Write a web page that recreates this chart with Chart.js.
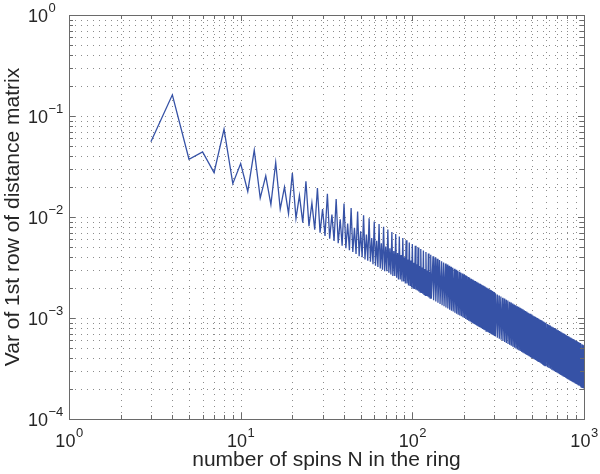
<!DOCTYPE html>
<html>
<head>
<meta charset="utf-8">
<script src="https://cdn.jsdelivr.net/npm/chart.js@4"></script>
<style>
  html, body { margin: 0; padding: 0; background: #fff; }
  #wrap { width: 600px; height: 474px; }
</style>
</head>
<body>
<div id="wrap"><canvas id="c"></canvas></div>
<script>
// number of spins N (x) and variance of the 1st row of the distance matrix (y)
// every N up to 127, then the upper/lower edges of the dense band
const spins = [
  3, 4, 5, 6, 7, 8, 9, 10, 11, 12, 13, 14, 15, 16, 17, 18, 19, 20,
  21, 22, 23, 24, 25, 26, 27, 28, 29, 30, 31, 32, 33, 34, 35, 36, 37, 38, 39, 40,
  41, 42, 43, 44, 45, 46, 47, 48, 49, 50, 51, 52, 53, 54, 55, 56, 57, 58, 59, 60,
  61, 62, 63, 64, 65, 66, 67, 68, 69, 70, 71, 72, 73, 74, 75, 76, 77, 78, 79, 80,
  81, 82, 83, 84, 85, 86, 87, 88, 89, 90, 91, 92, 93, 94, 95, 96, 97, 98, 99, 100,
  101, 102, 103, 104, 105, 106, 107, 108, 109, 110, 111, 112, 113, 114, 115, 116,
  117, 118, 119, 120, 121, 122, 123, 124, 125, 126, 127,
  128, 129, 132, 133, 136, 137, 140, 141, 144, 145, 148, 149, 152, 153, 156, 157, 160, 161,
  164, 165, 168, 169, 172, 173, 176, 177, 180, 181, 184, 185, 188, 189, 192, 193,
  196, 197, 200, 201, 204, 205, 208, 209, 212, 213, 216, 217, 220, 221, 224, 225,
  228, 229, 232, 233, 236, 237, 240, 241, 244, 245, 248, 249, 252, 253, 256, 257,
  260, 261, 264, 265, 268, 269, 272, 273, 276, 277, 280, 281, 284, 285, 288, 289,
  292, 293, 296, 297, 300, 301,
  304, 305, 312, 313, 320, 321, 328, 329, 336, 337, 344, 345, 352, 353, 360, 361,
  368, 369, 376, 377, 384, 385, 392, 393, 400, 401, 408, 409, 416, 417, 424, 425,
  432, 433, 440, 441, 448, 449, 456, 457, 464, 465, 472, 473, 480, 481, 488, 489,
  496, 497, 504, 505, 512, 513, 520, 521, 528, 529, 536, 537, 544, 545, 552, 553,
  560, 561, 568, 569, 576, 577, 584, 585, 592, 593, 600, 601,
  612, 613, 624, 625, 636, 637, 648, 649, 660, 661, 672, 673, 684, 685, 696, 697,
  708, 709, 720, 721, 732, 733, 744, 745, 756, 757, 768, 769, 780, 781, 792, 793,
  804, 805, 816, 817, 828, 829, 840, 841, 852, 853, 864, 865, 876, 877, 888, 889,
  900, 901, 912, 913, 924, 925, 936, 937, 948, 949, 960, 961, 972, 973, 984, 985,
  996, 997, 1000
];
const variance = [
  0.0555, 0.162, 0.0373, 0.0441, 0.0275, 0.0743, 0.0214, 0.0338, 0.0179, 0.0459,
  0.0154, 0.0255, 0.0133, 0.0346, 0.0120, 0.0198, 0.0108, 0.0272,
  0.0097, 0.0163, 0.0088, 0.0226, 0.0081, 0.0138, 0.0075, 0.0194, 0.0070, 0.0120,
  0.0065, 0.0170, 0.0061, 0.0106, 0.0058, 0.0151, 0.0055, 0.0095, 0.0052, 0.0136,
  0.0049, 0.0086, 0.0047, 0.0123, 0.0045, 0.0078, 0.0043, 0.0113, 0.0041, 0.0072,
  0.0040, 0.0104, 0.0038, 0.0067, 0.0037, 0.0097, 0.0036, 0.0062, 0.0034, 0.0090,
  0.0033, 0.0058, 0.0032, 0.0085, 0.0031, 0.0055, 0.0030, 0.0080, 0.0029, 0.0051,
  0.0029, 0.0075, 0.0028, 0.0049, 0.0027, 0.0071, 0.0026, 0.0046, 0.0026, 0.0068,
  0.0025, 0.0044, 0.0024, 0.0064, 0.0024, 0.0042, 0.0023, 0.0062, 0.0023, 0.0040,
  0.0022, 0.0059, 0.0022, 0.0038, 0.0021, 0.0056, 0.0021, 0.0037, 0.0020, 0.0054,
  1.98e-3, 3.53e-3, 1.94e-3, 5.19e-3, 1.90e-3, 3.40e-3, 1.87e-3, 5.00e-3,
  1.83e-3, 3.27e-3, 1.80e-3, 4.82e-3, 1.77e-3, 3.16e-3, 1.74e-3, 4.66e-3,
  1.71e-3, 3.05e-3, 1.68e-3, 4.50e-3, 1.65e-3, 2.95e-3, 1.63e-3, 4.35e-3,
  1.60e-3, 2.86e-3, 1.57e-3,
  4.22e-3, 1.55e-3, 4.09e-3, 1.50e-3, 3.97e-3, 1.46e-3, 3.86e-3, 1.42e-3, 3.75e-3, 1.38e-3,
  3.65e-3, 1.34e-3, 3.55e-3, 1.31e-3, 3.46e-3, 1.27e-3, 3.38e-3, 1.24e-3,
  3.29e-3, 1.21e-3, 3.21e-3, 1.18e-3, 3.14e-3, 1.16e-3, 3.07e-3, 1.13e-3,
  3.00e-3, 1.10e-3, 2.93e-3, 1.08e-3, 2.87e-3, 1.06e-3, 2.81e-3, 1.04e-3,
  2.76e-3, 1.02e-3, 2.70e-3, 1.00e-3, 2.65e-3, 9.76e-4, 2.60e-3, 9.57e-4,
  2.55e-3, 9.39e-4, 2.50e-3, 9.22e-4, 2.45e-3, 9.05e-4, 2.41e-3, 8.89e-4,
  2.37e-3, 8.73e-4, 2.33e-3, 8.58e-4, 2.29e-3, 8.44e-4, 2.25e-3, 8.30e-4,
  2.21e-3, 8.16e-4, 2.18e-3, 8.03e-4, 2.14e-3, 7.91e-4, 2.11e-3, 7.78e-4,
  2.08e-3, 7.66e-4, 2.05e-3, 7.55e-4, 2.01e-3, 7.43e-4, 1.99e-3, 7.33e-4,
  1.96e-3, 7.22e-4, 1.93e-3, 7.12e-4, 1.90e-3, 7.02e-4, 1.88e-3, 6.92e-4,
  1.85e-3, 6.83e-4, 1.82e-3, 6.73e-4, 1.80e-3, 6.64e-4,
  1.76e-3, 6.56e-4, 1.71e-3, 6.39e-4, 1.67e-3, 6.23e-4, 1.63e-3, 6.08e-4,
  1.59e-3, 5.93e-4, 1.56e-3, 5.80e-4, 1.52e-3, 5.67e-4, 1.49e-3, 5.54e-4,
  1.45e-3, 5.42e-4, 1.42e-3, 5.31e-4, 1.39e-3, 5.19e-4, 1.36e-3, 5.09e-4,
  1.34e-3, 4.99e-4, 1.31e-3, 4.89e-4, 1.29e-3, 4.80e-4, 1.26e-3, 4.71e-4,
  1.24e-3, 4.62e-4, 1.22e-3, 4.54e-4, 1.19e-3, 4.45e-4, 1.17e-3, 4.38e-4,
  1.15e-3, 4.30e-4, 1.13e-3, 4.23e-4, 1.11e-3, 4.16e-4, 1.10e-3, 4.09e-4,
  1.08e-3, 4.02e-4, 1.06e-3, 3.96e-4, 1.04e-3, 3.90e-4, 1.03e-3, 3.84e-4,
  1.01e-3, 3.78e-4, 9.98e-4, 3.72e-4, 9.83e-4, 3.67e-4, 9.69e-4, 3.62e-4,
  9.55e-4, 3.57e-4, 9.42e-4, 3.51e-4, 9.29e-4, 3.47e-4, 9.16e-4, 3.42e-4,
  9.04e-4, 3.37e-4, 8.92e-4, 3.33e-4,
  8.74e-4, 3.26e-4, 8.57e-4, 3.20e-4, 8.41e-4, 3.14e-4, 8.26e-4, 3.08e-4,
  8.11e-4, 3.03e-4, 7.96e-4, 2.97e-4, 7.82e-4, 2.92e-4, 7.69e-4, 2.87e-4,
  7.56e-4, 2.82e-4, 7.43e-4, 2.77e-4, 7.31e-4, 2.73e-4, 7.19e-4, 2.68e-4,
  7.08e-4, 2.64e-4, 6.97e-4, 2.60e-4, 6.86e-4, 2.56e-4, 6.76e-4, 2.52e-4,
  6.65e-4, 2.48e-4, 6.56e-4, 2.45e-4, 6.46e-4, 2.41e-4, 6.37e-4, 2.38e-4,
  6.28e-4, 2.34e-4, 6.19e-4, 2.31e-4, 6.11e-4, 2.28e-4, 6.02e-4, 2.25e-4,
  5.94e-4, 2.22e-4, 5.87e-4, 2.19e-4, 5.79e-4, 2.16e-4, 5.72e-4, 2.13e-4,
  5.64e-4, 2.11e-4, 5.57e-4, 2.08e-4, 5.50e-4, 2.06e-4, 5.44e-4, 2.03e-4,
  5.37e-4, 2.01e-4, 5.35e-4
];

// decade ticks and their exponent labels
const xDecades = [1, 10, 100, 1000];
const xExponents = ['0', '1', '2', '3'];
const yDecades = [1, 0.1, 0.01, 0.001, 0.0001];
const yExponents = ['0', '\u22121', '\u22122', '\u22123', '\u22124'];

const xTitle = 'number of spins N in the ring';
const yTitle = 'Var of 1st row of distance matrix';

const FONT = '"Liberation Sans", Arial, Helvetica, sans-serif';

// minor ticks 2..9 inside each decade
function minorTicks(decades) {
  const out = [];
  const lo = Math.min(...decades), hi = Math.max(...decades);
  decades.forEach(d => {
    for (let m = 2; m <= 9; m++) {
      const v = d * m;
      if (v > lo && v < hi) out.push(v);
    }
  });
  return out;
}

const matlabAxes = {
  id: 'matlabAxes',
  beforeDatasetsDraw(chart) {
    const { ctx, chartArea: a, scales: { x, y } } = chart;
    ctx.save();
    ctx.strokeStyle = 'rgba(0,0,0,0.45)';
    ctx.lineWidth = 1;
    ctx.setLineDash([1, 5]);
    ctx.beginPath();
    xDecades.concat(minorTicks(xDecades)).forEach(v => {
      const px = Math.round(x.getPixelForValue(v)) + 0.5;
      if (px <= a.left + 1 || px >= a.right - 1) return;
      ctx.moveTo(px, a.bottom);
      ctx.lineTo(px, a.top);
    });
    yDecades.concat(minorTicks(yDecades)).forEach(v => {
      const py = Math.round(y.getPixelForValue(v)) + 0.5;
      if (py <= a.top + 1 || py >= a.bottom - 1) return;
      ctx.moveTo(a.left, py);
      ctx.lineTo(a.right, py);
    });
    ctx.stroke();
    ctx.restore();
  },
  afterDatasetsDraw(chart) {
    const { ctx, chartArea: a, scales: { x, y } } = chart;
    ctx.save();
    // box
    ctx.strokeStyle = '#6a6a6a';
    ctx.lineWidth = 1;
    ctx.strokeRect(Math.round(a.left) + 0.5, Math.round(a.top) + 0.5,
      Math.round(a.right - a.left), Math.round(a.bottom - a.top));

    // inward ticks on all four sides
    ctx.beginPath();
    const tickX = (v, len) => {
      const px = Math.round(x.getPixelForValue(v)) + 0.5;
      ctx.moveTo(px, a.bottom); ctx.lineTo(px, a.bottom - len);
      ctx.moveTo(px, a.top); ctx.lineTo(px, a.top + len);
    };
    const tickY = (v, len) => {
      const py = Math.round(y.getPixelForValue(v)) + 0.5;
      ctx.moveTo(a.left, py); ctx.lineTo(a.left + len, py);
      ctx.moveTo(a.right, py); ctx.lineTo(a.right - len, py);
    };
    xDecades.forEach(v => tickX(v, 6));
    minorTicks(xDecades).forEach(v => tickX(v, 4));
    yDecades.forEach(v => tickY(v, 6));
    minorTicks(yDecades).forEach(v => tickY(v, 4));
    ctx.stroke();

    // tick labels 10^k
    ctx.fillStyle = '#262626';
    const baseFont = '18px ' + FONT;
    const expFont = '13px ' + FONT;
    xDecades.forEach((v, i) => {
      const px = x.getPixelForValue(v);
      ctx.font = baseFont;
      const wb = ctx.measureText('10').width;
      ctx.font = expFont;
      const we = ctx.measureText(xExponents[i]).width;
      const left = px - (wb + we) / 2;
      ctx.textAlign = 'left';
      ctx.textBaseline = 'alphabetic';
      ctx.font = baseFont;
      ctx.fillText('10', left, a.bottom + 28);
      ctx.font = expFont;
      ctx.fillText(xExponents[i], left + wb + 0.5, a.bottom + 18);
    });
    yDecades.forEach((v, i) => {
      const py = y.getPixelForValue(v);
      ctx.textBaseline = 'alphabetic';
      ctx.font = baseFont;
      ctx.textAlign = 'right';
      ctx.fillText('10', a.left - 21, py + 6.5);
      ctx.font = expFont;
      ctx.textAlign = 'left';
      ctx.fillText(yExponents[i], a.left - 20.5, py - 3.5);
    });

    // axis titles
    ctx.font = '21px ' + FONT;
    ctx.textAlign = 'center';
    ctx.textBaseline = 'alphabetic';
    ctx.fillText(xTitle, (a.left + a.right) / 2, 466);
    ctx.translate(19, (a.top + a.bottom) / 2);
    ctx.rotate(-Math.PI / 2);
    ctx.fillText(yTitle, 0, 0);
    ctx.restore();
  }
};

new Chart(document.getElementById('c'), {
  type: 'line',
  data: {
    datasets: [{
      data: spins.map((n, i) => ({ x: n, y: variance[i] })),
      borderColor: '#3652a6',
      borderWidth: 1.3,
      pointRadius: 0,
      tension: 0,
      fill: false
    }]
  },
  options: {
    responsive: true,
    maintainAspectRatio: false,
    devicePixelRatio: 1,
    animation: false,
    layout: { padding: { left: 69, right: 16, top: 15, bottom: 55 } },
    scales: {
      x: { type: 'logarithmic', min: 1, max: 1000, display: false },
      y: { type: 'logarithmic', min: 1e-4, max: 1, display: false }
    },
    plugins: { legend: { display: false }, tooltip: { enabled: false } }
  },
  plugins: [matlabAxes]
});
</script>
</body>
</html>
